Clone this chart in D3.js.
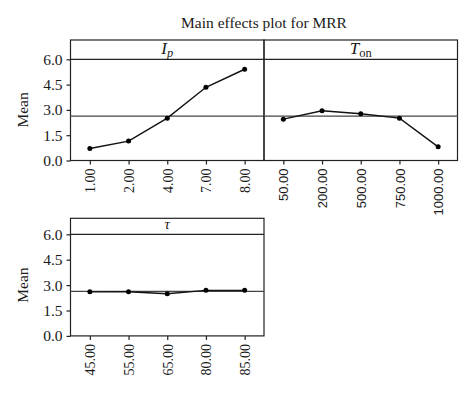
<!DOCTYPE html>
<html lang="en">
<head>
    <meta charset="UTF-8">
    <title>Main effects plot for MRR</title>
    <script src="https://d3js.org/d3.v7.min.js"></script>
    <style>
        body {
            margin: 0;
            background: #fff;
        }
        svg text {
            font-family: "Liberation Serif", "DejaVu Serif", serif;
            fill: #1a1a1a;
        }
        .frame, .strip {
            fill: none;
            stroke: #222;
            stroke-width: 1.2;
        }
        .meanline {
            stroke: #444;
            stroke-width: 1.1;
        }
        .effect {
            fill: none;
            stroke: #111;
            stroke-width: 1.4;
        }
    </style>
</head>
<body>
    <svg id="chart" width="474" height="397"></svg>

    <script>
        // values
        const ipLevels = ["1.00", "2.00", "4.00", "7.00", "8.00"];
        const ipMeans = [0.71, 1.15, 2.51, 4.34, 5.41];

        const tonLevels = ["50.00", "200.00", "500.00", "750.00", "1000.00"];
        const tonMeans = [2.45, 2.95, 2.77, 2.51, 0.81];

        const tauLevels = ["45.00", "55.00", "65.00", "80.00", "85.00"];
        const tauMeans = [2.60, 2.61, 2.49, 2.69, 2.69];

        const grandMean = 2.63;
        const yTicks = [0.0, 1.5, 3.0, 4.5, 6.0];

        const svg = d3.select("#chart");

        svg.append("text")
            .attr("x", 264)
            .attr("y", 28)
            .attr("text-anchor", "middle")
            .style("font-size", "15.5px")
            .text("Main effects plot for MRR");

        // one panel of the main effects plot
        function drawPanel(opts) {
            const g = svg.append("g");
            const x = d3.scalePoint()
                .domain(opts.levels)
                .range([opts.left, opts.right])
                .padding(0.5);
            const y = d3.scaleLinear()
                .domain([0, 6])
                .range([opts.bottom, opts.stripBottom]);

            // strip with factor name
            g.append("rect")
                .attr("class", "frame")
                .attr("x", opts.left)
                .attr("y", opts.top)
                .attr("width", opts.right - opts.left)
                .attr("height", opts.bottom - opts.top);
            g.append("line")
                .attr("class", "strip")
                .attr("x1", opts.left).attr("x2", opts.right)
                .attr("y1", opts.stripBottom).attr("y2", opts.stripBottom);

            const label = g.append("text")
                .attr("x", (opts.left + opts.right) / 2)
                .attr("y", opts.stripBottom - 5)
                .attr("text-anchor", "middle")
                .style("font-size", opts.sub ? "17px" : "15px")
                .style("font-style", "italic");
            label.append("tspan").text(opts.name);
            if (opts.sub) {
                label.append("tspan")
                    .attr("dy", 3)
                    .style("font-size", "12.5px")
                    .style("font-style", opts.subItalic ? "italic" : "normal")
                    .text(opts.sub);
            }

            // grand mean reference
            g.append("line")
                .attr("class", "meanline")
                .attr("x1", opts.left).attr("x2", opts.right)
                .attr("y1", y(grandMean)).attr("y2", y(grandMean));

            // x axis
            const xAxis = g.append("g")
                .attr("transform", `translate(0,${opts.bottom})`)
                .call(d3.axisBottom(x).tickSize(4).tickPadding(4));
            xAxis.select(".domain").remove();
            xAxis.selectAll("line").attr("stroke", "#222").attr("stroke-width", 1.2);
            xAxis.selectAll("text")
                .attr("transform", "rotate(-90)")
                .attr("x", -8)
                .attr("y", 0)
                .attr("dy", "0.35em")
                .attr("text-anchor", "end")
                .style("font-size", opts.sans ? "13px" : "14px")
                .style("font-family", opts.sans ? "'Liberation Sans', Arial, sans-serif" : null)
                .style("fill", "#1a1a1a");

            // y axis
            if (opts.yAxis) {
                const yAxis = g.append("g")
                    .attr("transform", `translate(${opts.left},0)`)
                    .call(d3.axisLeft(y).tickValues(yTicks).tickFormat(d3.format(".1f")).tickSize(4).tickPadding(4));
                yAxis.select(".domain").remove();
                yAxis.selectAll("line").attr("stroke", "#222").attr("stroke-width", 1.2);
                yAxis.selectAll("text")
                    .style("font-size", "15.5px")
                    .style("fill", "#1a1a1a");

                g.append("text")
                    .attr("transform", `translate(28,${(opts.stripBottom + opts.bottom) / 2}) rotate(-90)`)
                    .attr("text-anchor", "middle")
                    .style("font-size", "15.5px")
                    .text("Mean");
            }

            const pts = opts.levels.map((l, i) => [x(l), y(opts.means[i])]);
            g.append("path")
                .attr("class", "effect")
                .attr("d", d3.line()(pts));
            g.selectAll("circle")
                .data(pts)
                .join("circle")
                .attr("cx", d => d[0])
                .attr("cy", d => d[1])
                .attr("r", 2.5)
                .attr("fill", "#000");
        }

        drawPanel({
            levels: ipLevels, means: ipMeans, name: "I", sub: "p", subItalic: true,
            left: 70.5, right: 264, top: 40, stripBottom: 59.3, bottom: 160.5, yAxis: true
        });
        drawPanel({
            levels: tonLevels, means: tonMeans, name: "T", sub: "on", subItalic: false,
            left: 264, right: 457.5, top: 40, stripBottom: 59.3, bottom: 160.5, yAxis: false, sans: true
        });
        drawPanel({
            levels: tauLevels, means: tauMeans, name: "τ",
            left: 70.5, right: 264, top: 218.3, stripBottom: 234.3, bottom: 335.9, yAxis: true
        });
    </script>
</body>
</html>
